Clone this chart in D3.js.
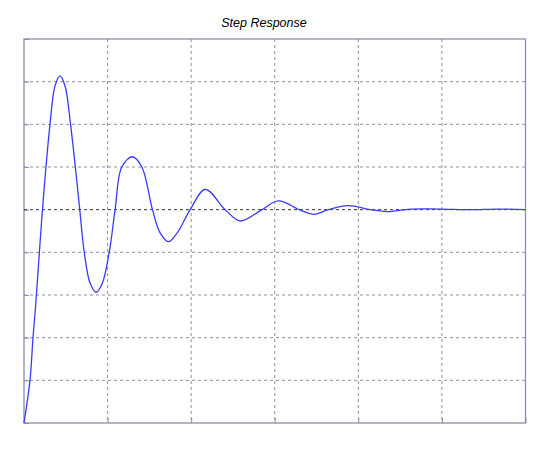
<!DOCTYPE html>
<html><head><meta charset="utf-8">
<script src="https://cdn.jsdelivr.net/npm/d3@7"></script>
<style>body{margin:0;background:#fff}svg{display:block}</style>
</head><body>
<svg id="c" width="542" height="450"></svg>
<script>
const title = "Step Response";
const xTicks = [0,1,2,3,4,5,6];
const yTicks = [0,0.2,0.4,0.6,0.8,1.0,1.2,1.4,1.6,1.8];
const steadyState = 1.0;
const time = [0,0.072,0.108,0.138,0.185,0.221,0.263,0.311,0.371,0.431,0.491,0.557,0.614,0.667,0.719,0.790,0.862,0.934,1.022,1.090,1.170,1.297,1.410,1.537,1.629,1.728,1.832,1.988,2.168,2.407,2.587,2.847,3.042,3.305,3.473,3.641,3.880,4.144,4.347,4.623,4.982,5.341,5.665,6.0];
const response = [0,0.202,0.403,0.544,0.806,1.0,1.2,1.40,1.58,1.627,1.58,1.40,1.2,1.0,0.806,0.656,0.613,0.652,0.806,1.0,1.2,1.248,1.2,1.0,0.891,0.850,0.891,1.0,1.095,1.0,0.947,1.0,1.041,0.998,0.978,1.0,1.019,1.0,0.991,1.003,1.003,1.0,1.003,1.0];

const svg = d3.select("#c");
const L=24, R=525.5, T=39, B=423;
const x = d3.scaleLinear().domain([0,6]).range([L,R]);
const y = d3.scaleLinear().domain([0,1.8]).range([B,T]);
const gridCol = "#8e8ea8", axCol = "#8c8cab";

// grid
svg.append("g").selectAll("line").data(xTicks.slice(1)).join("line")
  .attr("x1",d=>x(d)).attr("x2",d=>x(d)).attr("y1",T).attr("y2",B)
  .attr("stroke",gridCol).attr("stroke-dasharray","3,3").attr("stroke-width",1);
svg.append("g").selectAll("line").data(yTicks.slice(1,-1).filter(d=>d!==steadyState)).join("line")
  .attr("x1",L).attr("x2",R).attr("y1",d=>y(d)).attr("y2",d=>y(d))
  .attr("stroke",gridCol).attr("stroke-dasharray","3,3").attr("stroke-width",1);

// frame
svg.append("rect").attr("x",L).attr("y",T).attr("width",R-L).attr("height",B-T)
  .attr("fill","none").attr("stroke",axCol).attr("stroke-width",1.3);

// axes ticks (inward, no labels)
svg.append("g").attr("transform",`translate(0,${B})`)
  .call(d3.axisBottom(x).tickValues(xTicks).tickSize(-5).tickFormat(""))
  .call(g=>{g.select(".domain").remove();g.selectAll("line").attr("stroke",axCol);});
svg.append("g").attr("transform",`translate(${L},0)`)
  .call(d3.axisLeft(y).tickValues(yTicks).tickSize(-5).tickFormat(""))
  .call(g=>{g.select(".domain").remove();g.selectAll("line").attr("stroke",axCol);});

// steady state
svg.append("line").attr("x1",L).attr("x2",R).attr("y1",y(steadyState)).attr("y2",y(steadyState))
  .attr("stroke","#333").attr("stroke-dasharray","3,3").attr("stroke-width",1);

// response line
const pts = time.map((t,i)=>[t,response[i]]);
svg.append("path").datum(pts)
  .attr("d", d3.line().x(d=>x(d[0])).y(d=>y(d[1])).curve(d3.curveCatmullRom.alpha(0.5)))
  .attr("fill","none").attr("stroke","#3a3aff").attr("stroke-width",1.3);

svg.append("text").attr("x",264).attr("y",27).attr("text-anchor","middle")
  .attr("font-family","Liberation Sans, Arial, sans-serif").attr("font-style","italic")
  .attr("font-size",12.5).attr("fill","#000").text(title);
</script>
</body></html>
